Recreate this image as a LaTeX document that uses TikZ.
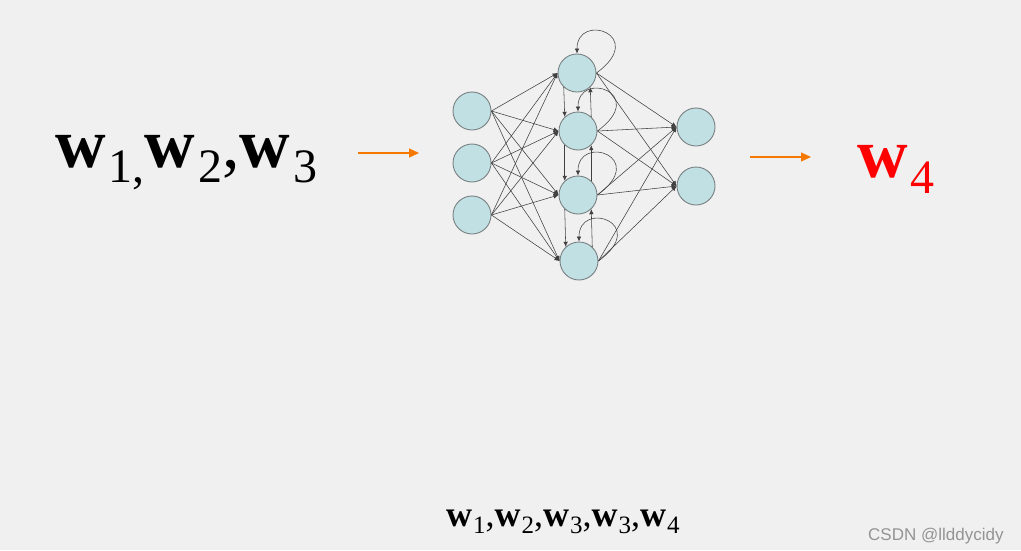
\documentclass[tikz,border=0pt]{standalone}
\usepackage{xcolor}
\usepackage{fontspec}
\setmainfont{Liberation Serif}
\newfontfamily\markfont{Liberation Sans}
\usetikzlibrary{arrows.meta}

\definecolor{bgcol}{RGB}{240,240,240}
\definecolor{cellfill}{RGB}{192,224,227}
\definecolor{cellline}{RGB}{120,128,130}
\definecolor{flowcol}{RGB}{245,120,0}
\definecolor{wred}{RGB}{255,0,0}

% bold w with a lowered index
\newcommand{\wbig}[1]{\textbf{w}\kern3pt\raisebox{-15pt}{\fontsize{48}{48}\selectfont #1}}
\newcommand{\wsmall}[1]{\textbf{w}\kern1pt\raisebox{-7pt}{\fontsize{25}{25}\selectfont #1}}

\begin{document}
\begin{tikzpicture}[x=1pt,y=1pt,yscale=-1,xscale=1,
  neuron/.style={circle,draw=cellline,fill=cellfill,line width=0.9pt,minimum size=38pt,inner sep=0pt},
  link/.style={draw=black!75,line width=0.55pt,-{Latex[length=5pt,width=4.5pt]}},
  flow/.style={draw=flowcol,line width=1.2pt,-{Triangle[length=10pt,width=9pt]}},
  wtext/.style={anchor=base west,inner sep=0pt}]

% background, sets the picture size
\fill[bgcol] (0,0) rectangle (1021,550);
\useasboundingbox (0,0) rectangle (1021,550);

%Shape: Circle [input layer]
\node[neuron] (i1) at (472,111) {};
\node[neuron] (i2) at (472,163) {};
\node[neuron] (i3) at (472,215) {};
%Shape: Circle [hidden layer]
\node[neuron] (h1) at (577,73) {};
\node[neuron] (h2) at (578,131) {};
\node[neuron] (h3) at (578,195) {};
\node[neuron] (h4) at (579,261) {};
%Shape: Circle [output layer]
\node[neuron] (o1) at (696,127) {};
\node[neuron] (o2) at (696,186) {};

%Straight Lines [input to hidden]
\draw[link] (i1.east) -- (h1.west);
\draw[link] (i1.east) -- (h2.west);
\draw[link] (i1.east) -- (h3.west);
\draw[link] (i1.east) -- (h4.west);
\draw[link] (i2.east) -- (h1.west);
\draw[link] (i2.east) -- (h2.west);
\draw[link] (i2.east) -- (h3.west);
\draw[link] (i2.east) -- (h4.west);
\draw[link] (i3.east) -- (h1.west);
\draw[link] (i3.east) -- (h2.west);
\draw[link] (i3.east) -- (h3.west);
\draw[link] (i3.east) -- (h4.west);

%Straight Lines [hidden to output]
\draw[link] (h1.east) -- (o1.west);
\draw[link] (h1.east) -- (o2.west);
\draw[link] (h2.east) -- (o1.west);
\draw[link] (h2.east) -- (o2.west);
\draw[link] (h3.east) -- (o1.west);
\draw[link] (h3.east) -- (o2.west);
\draw[link] (h4.east) -- (o1.west);
\draw[link] (h4.east) -- (o2.west);

%Straight Lines [inside hidden layer, down and up]
\draw[link] (h1.227) -- (h2.133);
\draw[link] (h2.227) -- (h3.133);
\draw[link] (h3.227) -- (h4.133);
\draw[link] (h2.47) -- (h1.-47);
\draw[link] (h3.47) -- (h2.-47);
\draw[link] (h4.47) -- (h3.-47);

%Curve Lines [self loops]
\draw[link] (h1.east) .. controls +(52,-38) and +(0,-42) .. (h1.north);
\draw[link] (h2.east) .. controls +(52,-38) and +(0,-42) .. (h2.north);
\draw[link] (h3.east) .. controls +(52,-38) and +(0,-42) .. (h3.north);
\draw[link] (h4.east) .. controls +(52,-38) and +(0,-42) .. (h4.north);

%Straight Lines [orange arrows]
\coordinate (fa) at (358,153);
\coordinate (fb) at (419,153);
\coordinate (ga) at (750,157);
\coordinate (gb) at (811,157);
\draw[flow] (fa) -- (fb);
\draw[flow] (ga) -- (gb);

% Text Node
\node[wtext,font=\fontsize{70}{72}\selectfont] (wins) at (55,167) {\wbig{1,}\wbig{2},\wbig{3}};
% Text Node
\node[wtext,text=wred,font=\fontsize{70}{72}\selectfont] (wout) at (857,177) {\textbf{w}\kern3pt\raisebox{-16pt}{\fontsize{48}{48}\selectfont 4}};
% Text Node
\node[wtext,font=\fontsize{36}{40}\selectfont] (wseq) at (446,526) {\wsmall{1},\wsmall{2},\wsmall{3},\wsmall{3},\wsmall{4}};
% Text Node
\node[wtext,text=black!42,font=\markfont\fontsize{17}{19}\selectfont] (mark) at (868,540) {CSDN @llddycidy};

\end{tikzpicture}
\end{document}
